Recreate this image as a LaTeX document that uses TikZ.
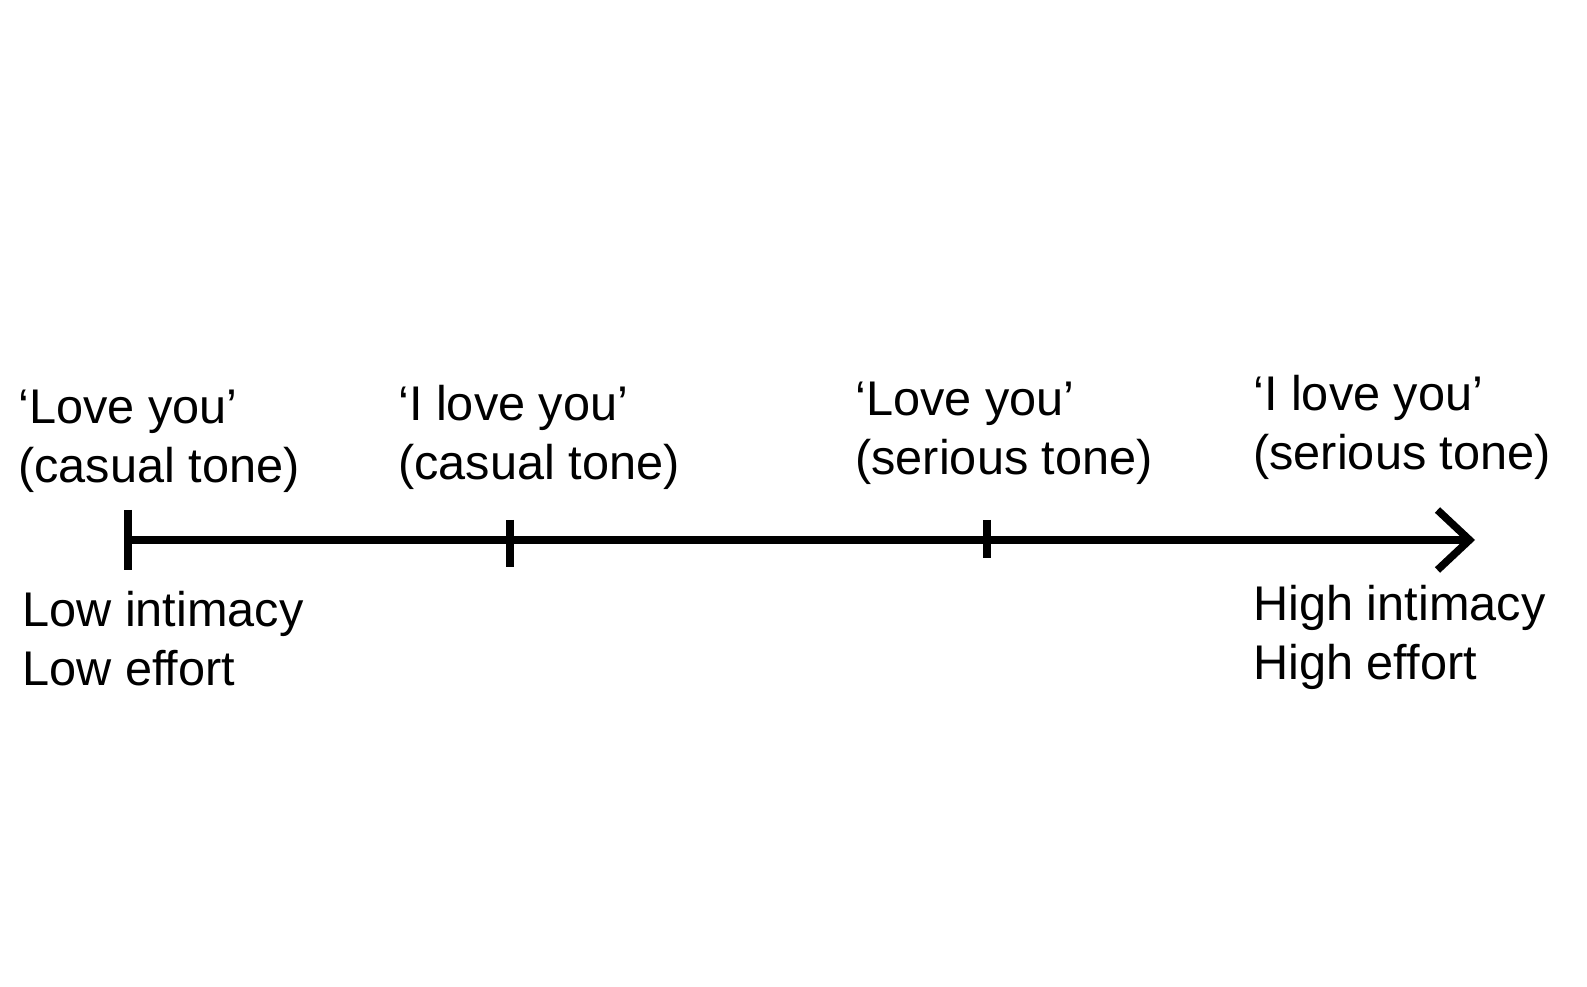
\documentclass[tikz,border=0pt]{standalone}
\usepackage{fontspec}
\setmainfont{Liberation Sans}
\usetikzlibrary{arrows.meta}

\begin{document}
\begin{tikzpicture}[
    % GLOBAL CFG
    font=\fontsize{27.7}{34}\selectfont,
    % Styles
    phrase/.style={% For the sayings above the axis
        anchor=base west,
        align=left,
        inner sep=0pt,
        },
    level/.style={% For the ends below the axis
        anchor=base west,
        align=left,
        inner sep=0pt,
        },
    axis/.style={% The main line
        line width=4.3pt,
        },
    tickmark/.style={% Short marks on the line
        line width=4.3pt,
        },
    ]

    \useasboundingbox (0,0) rectangle (31.74,19.74);

    % Points on the line
    \coordinate (axis_start) at (2.56,8.94);
    \coordinate (tick_b) at (10.2,8.94);
    \coordinate (tick_c) at (19.74,8.94);
    \coordinate (axis_end) at (29.5,8.94);

    % Sayings above the line (anchored on the last line)
    \node [phrase] (love_casual) at (0.36,10.08) {‘Love you’\\(casual tone)};
    \node [phrase] (ilove_casual) at (7.96,10.14) {‘I love you’\\(casual tone)};
    \node [phrase] (love_serious) at (17.1,10.24) {‘Love you’\\(serious tone)};
    \node [phrase] (ilove_serious) at (25.06,10.34) {‘I love you’\\(serious tone)};

    % Ends below the line
    \node [level] (low_end) at (0.44,6.02) {Low intimacy\\Low effort};
    \node [level] (high_end) at (25.06,6.14) {High intimacy\\High effort};

    % Draw the line
    \draw [axis, -{Straight Barb[length=0.64cm, width=1.2cm]}] (axis_start) -- (axis_end);

    % Tick marks
    \draw [tickmark] (axis_start)++(0,0.6) -- ++(0,-1.2);
    \draw [tickmark] (tick_b)++(0,0.4) -- ++(0,-0.94);
    \draw [tickmark] (tick_c)++(0,0.4) -- ++(0,-0.76);

\end{tikzpicture}
\end{document}
